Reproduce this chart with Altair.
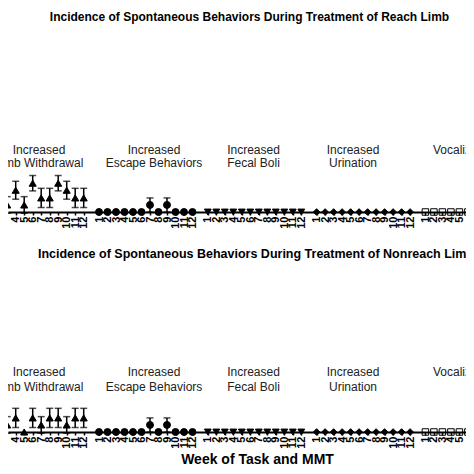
import altair as alt
import pandas as pd

# ---------------- data ----------------
weeks = [1, 2, 3, 4, 5, 6, 7, 8, 9, 10, 11, 12]
groups = ["Limb Withdrawal", "Escape Behaviors", "Fecal Boli", "Urination", "Vocalization"]
label_line1 = ["Increased", "Increased", "Increased", "Increased", "Vocalization"]
label_line2 = ["Limb Withdrawal", "Escape Behaviors", "Fecal Boli", "Urination", ""]
title_reach = "Incidence of Spontaneous Behaviors During Treatment of Reach Limb"
title_nonreach = "Incidence of Spontaneous Behaviors During Treatment of Nonreach Limb"
x_title = "Week of Task and MMT"

# Reach limb panel (mean incidence, SEM)
reach_limb_mean = [0.11, 0.11, 0.11, 0.34, 0.11, 0.45, 0.22, 0.22, 0.45, 0.34, 0.22, 0.22]
reach_limb_sem = [0.13, 0.13, 0.13, 0.14, 0.13, 0.12, 0.15, 0.15, 0.12, 0.14, 0.15, 0.15]
reach_escape_mean = [0, 0, 0, 0, 0, 0, 0.11, 0, 0.11, 0, 0, 0]
reach_escape_sem = [0, 0, 0, 0, 0, 0, 0.11, 0, 0.11, 0, 0, 0]
reach_fecal_mean = [0, 0, 0, 0, 0, 0, 0, 0, 0, 0, 0, 0]
reach_urine_mean = [0, 0, 0, 0, 0, 0, 0, 0, 0, 0, 0, 0]
reach_vocal_mean = [0, 0, 0, 0, 0, 0, 0, 0, 0, 0, 0, 0]

# Nonreach limb panel
nonreach_limb_mean = [0.11, 0.22, 0.11, 0.22, 0.0, 0.22, 0.11, 0.22, 0.22, 0.11, 0.22, 0.22]
nonreach_limb_sem = [0.13, 0.15, 0.13, 0.15, 0.0, 0.15, 0.13, 0.15, 0.15, 0.13, 0.15, 0.15]
nonreach_escape_mean = [0, 0, 0, 0, 0, 0, 0.11, 0, 0.11, 0, 0, 0]
nonreach_escape_sem = [0, 0, 0, 0, 0, 0, 0.11, 0, 0.11, 0, 0, 0]
nonreach_fecal_mean = [0, 0, 0, 0, 0, 0, 0, 0, 0, 0, 0, 0]
nonreach_urine_mean = [0, 0, 0, 0, 0, 0, 0, 0, 0, 0, 0, 0]
nonreach_vocal_mean = [0, 0, 0, 0, 0, 0, 0, 0, 0, 0, 0, 0]

zero_sem = [0, 0, 0, 0, 0, 0, 0, 0, 0, 0, 0, 0]

# ---------------- layout ----------------
PITCH = 12.8          # slots between week 1 of consecutive groups
X_DOMAIN = [2.094, 55.976]
PX_PER_UNIT = 64.0
WIDTH = 458
FONT = "Liberation Sans"
label_anchor = [5.74, 19.27, 30.98, 42.68, 55.86]

tick_positions = [g * PITCH + (w - 1) for g in range(len(groups)) for w in weeks]
label_expr = "round(datum.value - floor((datum.value + 0.5) / 12.8) * 12.8) + 1"


def build_df(means, sems):
    rows = []
    for g, (m, s) in enumerate(zip(means, sems)):
        for w, mv, sv in zip(weeks, m, s):
            rows.append({
                "group": groups[g],
                "week": w,
                "pos": g * PITCH + (w - 1),
                "mean": mv,
                "lo": mv - sv,
                "hi": mv + sv,
                "sem": sv,
            })
    return pd.DataFrame(rows)


labels_df = pd.DataFrame({"pos": label_anchor, "l1": label_line1, "l2": label_line2})


def panel(df, title, title_size, title_x, title_y, height, axis_px, y1, y2, axis_title):
    below = height - axis_px
    ymax = axis_px / PX_PER_UNIT
    ymin = -below / PX_PER_UNIT
    xscale = alt.Scale(domain=X_DOMAIN, nice=False, zero=False)
    yscale = alt.Scale(domain=[ymin, ymax], nice=False, zero=False)

    axis_kwargs = dict(
        values=tick_positions, tickCount=500, labelExpr=label_expr, labelAngle=-90,
        labelFont=FONT, labelFontWeight="bold", labelFontSize=11, labelColor="black",
        labelPadding=1, labelFlush=False, labelOverlap=False, labelBound=False,
        tickSize=3, tickWidth=1.5, tickColor="black",
        domainColor="black", domainWidth=2, grid=False, offset=-below,
    )
    if axis_title:
        axis_kwargs.update(
            titleFont=FONT, titleFontSize=14, titleFontWeight="bold", titleColor="black",
            titleX=249, titleY=27, titleBaseline="middle", titleAlign="center",
        )
        x_enc = alt.X("pos:Q", scale=xscale, axis=alt.Axis(**axis_kwargs), title=axis_title)
    else:
        x_enc = alt.X("pos:Q", scale=xscale, axis=alt.Axis(**axis_kwargs), title=None)

    base = alt.Chart(df)
    err = base.transform_filter("datum.sem > 0")
    bars = err.mark_rule(color="black", strokeWidth=1.5, clip=True).encode(
        x=x_enc,
        y=alt.Y("lo:Q", scale=yscale, axis=None),
        y2="hi:Q",
    )
    cap_hi = err.mark_tick(color="black", orient="horizontal", size=7, thickness=1.5, clip=True).encode(
        x=alt.X("pos:Q", scale=xscale),
        y=alt.Y("hi:Q", scale=yscale, axis=None),
    )
    cap_lo = err.mark_tick(color="black", orient="horizontal", size=7, thickness=1.5, clip=True).encode(
        x=alt.X("pos:Q", scale=xscale),
        y=alt.Y("lo:Q", scale=yscale, axis=None),
    )
    pts = base.mark_point(filled=True, clip=True, stroke="black", strokeWidth=1, opacity=1).encode(
        x=alt.X("pos:Q", scale=xscale),
        y=alt.Y("mean:Q", scale=yscale, axis=None),
        shape=alt.Shape("group:N", legend=None, scale=alt.Scale(
            domain=groups,
            range=["triangle-up", "circle", "triangle-down", "diamond", "square"])),
        size=alt.Size("group:N", legend=None, scale=alt.Scale(
            domain=groups, range=[50, 42, 38, 16, 55])),
        fill=alt.Fill("group:N", legend=None, scale=alt.Scale(
            domain=groups, range=["black", "black", "black", "black", "transparent"])),
    )
    t1 = alt.Chart(labels_df).mark_text(
        font=FONT, fontSize=12, color="#222", baseline="middle", align="center", clip=True
    ).encode(x=alt.X("pos:Q", scale=xscale), y=alt.value(y1), text="l1:N")
    t2 = alt.Chart(labels_df).mark_text(
        font=FONT, fontSize=12, color="#222", baseline="middle", align="center", clip=True
    ).encode(x=alt.X("pos:Q", scale=xscale), y=alt.value(y2), text="l2:N")
    ttl = alt.Chart(pd.DataFrame({"t": [title]})).mark_text(
        font=FONT, fontSize=title_size, fontWeight="bold", color="black",
        baseline="middle", align="center", clip=True
    ).encode(x=alt.value(title_x), y=alt.value(title_y), text="t:N")
    return alt.layer(bars, cap_hi, cap_lo, pts, t1, t2, ttl).properties(
        width=WIDTH, height=height,
    )


reach_df = build_df(
    [reach_limb_mean, reach_escape_mean, reach_fecal_mean, reach_urine_mean, reach_vocal_mean],
    [reach_limb_sem, reach_escape_sem, zero_sem, zero_sem, zero_sem],
)
nonreach_df = build_df(
    [nonreach_limb_mean, nonreach_escape_mean, nonreach_fecal_mean, nonreach_urine_mean, nonreach_vocal_mean],
    [nonreach_limb_sem, nonreach_escape_sem, zero_sem, zero_sem, zero_sem],
)

p1 = panel(reach_df, title_reach, 12.0, 241.5, 8.5, 230, 204, 141.5, 154.5, None)
p2 = panel(nonreach_df, title_nonreach, 12.5, 248, 16, 228, 194, 134, 149, x_title)

chart = alt.vconcat(p1, p2, spacing=0).properties(
    padding={"top": 0, "left": 0, "right": 0, "bottom": 0},
    background="white",
).configure_view(stroke="transparent", strokeWidth=0)

chart.save("out.html", embed_options={"renderer": "svg", "actions": False})
